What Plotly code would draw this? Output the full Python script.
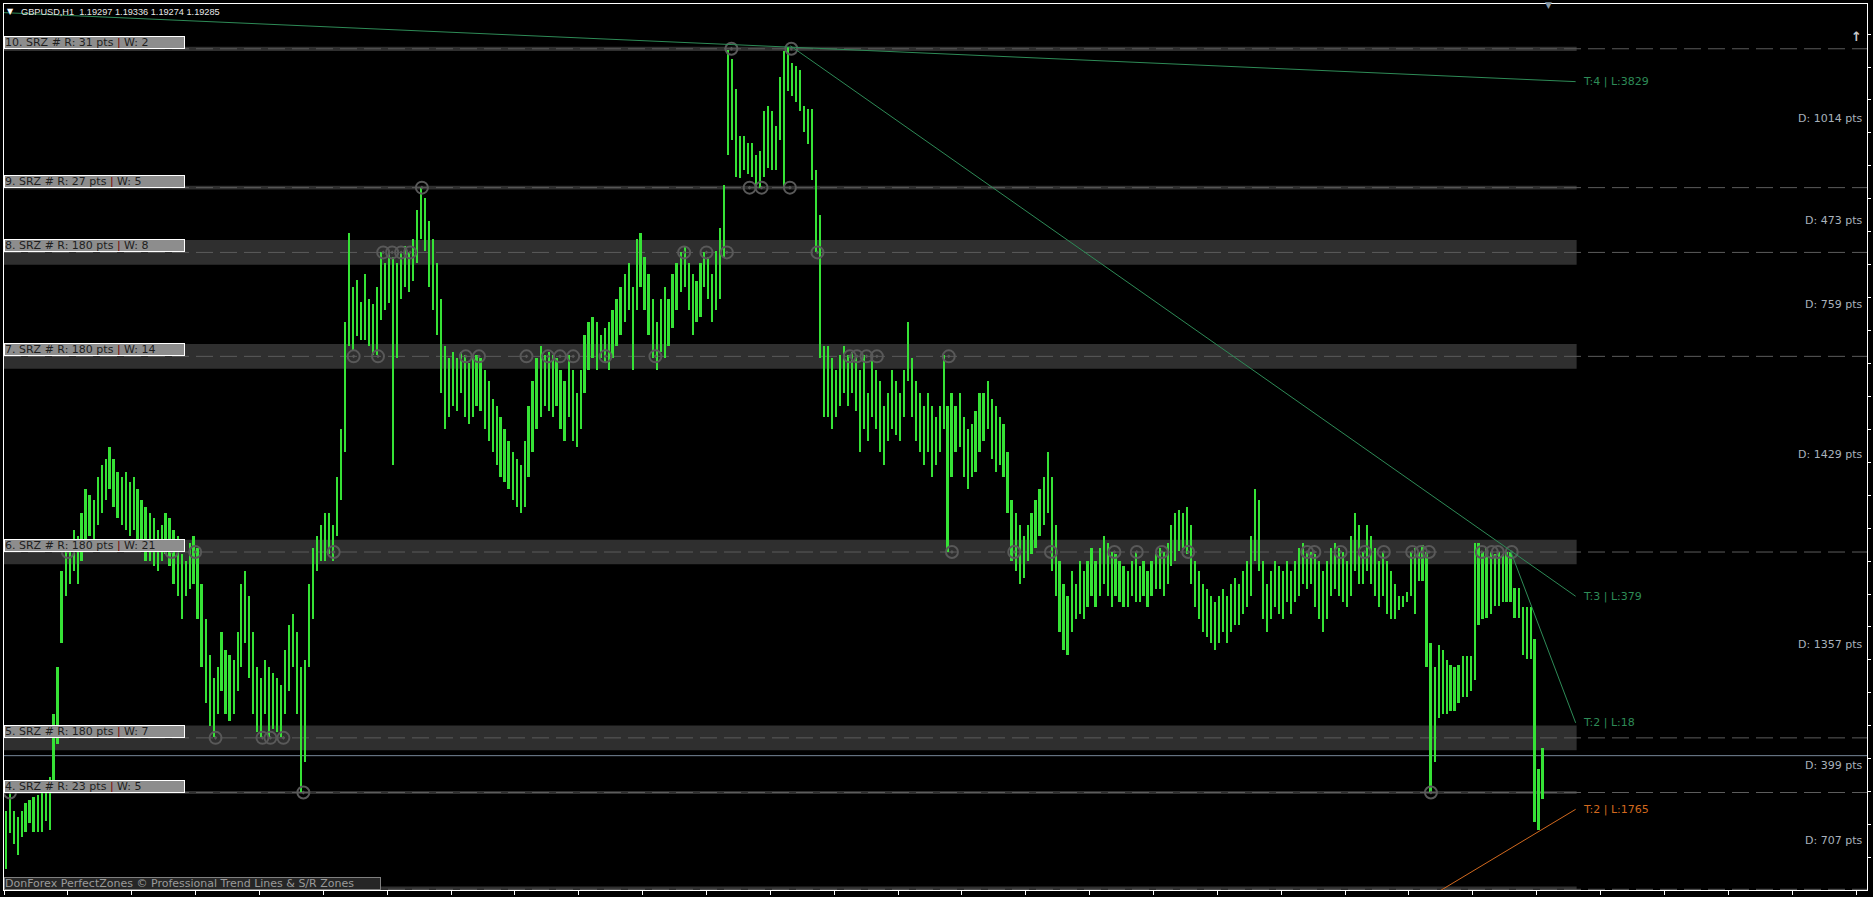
import plotly.graph_objects as go

# ---------------- data ----------------
symbol = "GBPUSD,H1"
last_ohlc = [1.19297, 1.19336, 1.19274, 1.19285]
bid_price = 1.19285

bar_high = [
1.1888,1.1902,1.1888,1.1884,1.1888,1.1894,1.1896,1.1898,1.1900,1.1901,1.1903,1.1913,1.1959,1.1993,1.2063,1.2080,1.2084,1.2093,1.2089,1.2106,
1.2123,1.2119,1.2115,1.2132,1.2141,1.2145,1.2154,1.2145,1.2136,1.2132,1.2136,1.2128,1.2132,1.2123,1.2115,1.2110,1.2106,1.2102,1.2093,1.2097,
1.2106,1.2102,1.2093,1.2089,1.2076,1.2071,1.2084,1.2089,1.2080,1.2054,1.2028,1.2002,1.1985,1.1993,1.2019,1.2006,1.2002,1.1998,1.2019,1.2054,
1.2063,1.2045,1.2019,1.1993,1.1985,1.1998,1.1993,1.1989,1.1985,1.1980,1.2006,1.2024,1.2032,1.2019,1.1993,1.1998,1.2054,1.2080,1.2089,1.2097,
1.2106,1.2106,1.2097,1.2132,1.2167,1.2245,1.2310,1.2271,1.2276,1.2260,1.2280,1.2262,1.2258,1.2271,1.2296,1.2288,1.2296,1.2293,1.2288,1.2296,
1.2301,1.2296,1.2306,1.2327,1.2343,1.2336,1.2319,1.2306,1.2288,1.2262,1.2228,1.2219,1.2223,1.2219,1.2223,1.2221,1.2215,1.2219,1.2221,1.2219,
1.2210,1.2202,1.2189,1.2184,1.2176,1.2167,1.2158,1.2150,1.2145,1.2141,1.2158,1.2184,1.2202,1.2219,1.2228,1.2221,1.2223,1.2221,1.2219,1.2210,
1.2202,1.2221,1.2210,1.2193,1.2210,1.2236,1.2245,1.2249,1.2245,1.2236,1.2241,1.2245,1.2254,1.2262,1.2271,1.2280,1.2288,1.2271,1.2306,1.2310,
1.2293,1.2280,1.2262,1.2245,1.2262,1.2271,1.2262,1.2280,1.2288,1.2296,1.2301,1.2288,1.2280,1.2275,1.2288,1.2296,1.2293,1.2280,1.2297,1.2314,
1.2345,1.2444,1.2437,1.2415,1.2381,1.2381,1.2376,1.2376,1.2367,1.2370,1.2399,1.2403,1.2399,1.2388,1.2424,1.2443,1.2446,1.2434,1.2432,1.2429,
1.2403,1.2401,1.2401,1.2356,1.2323,1.2228,1.2228,1.2219,1.2210,1.2221,1.2228,1.2221,1.2223,1.2221,1.2210,1.2221,1.2193,1.2221,1.2210,1.2202,
1.2184,1.2193,1.2210,1.2202,1.2193,1.2210,1.2245,1.2219,1.2202,1.2193,1.2184,1.2193,1.2184,1.2176,1.2184,1.2221,1.2184,1.2193,1.2184,1.2193,
1.2176,1.2167,1.2171,1.2180,1.2193,1.2193,1.2202,1.2189,1.2184,1.2176,1.2171,1.2150,1.2115,1.2106,1.2097,1.2089,1.2097,1.2106,1.2115,1.2123,
1.2132,1.2150,1.2132,1.2097,1.2071,1.2054,1.2045,1.2063,1.2054,1.2071,1.2063,1.2071,1.2080,1.2071,1.2080,1.2089,1.2084,1.2077,1.2076,1.2071,
1.2067,1.2063,1.2071,1.2077,1.2067,1.2071,1.2063,1.2071,1.2076,1.2080,1.2077,1.2084,1.2097,1.2106,1.2108,1.2106,1.2110,1.2097,1.2071,1.2063,
1.2054,1.2050,1.2045,1.2041,1.2045,1.2050,1.2045,1.2054,1.2058,1.2054,1.2063,1.2071,1.2089,1.2123,1.2115,1.2071,1.2054,1.2063,1.2071,1.2067,
1.2063,1.2071,1.2063,1.2071,1.2080,1.2084,1.2077,1.2077,1.2076,1.2071,1.2063,1.2071,1.2080,1.2084,1.2080,1.2077,1.2071,1.2089,1.2106,1.2097,
1.2077,1.2097,1.2089,1.2080,1.2071,1.2077,1.2071,1.2063,1.2054,1.2045,1.2045,1.2048,1.2077,1.2080,1.2077,1.2082,1.2077,1.2011,1.1993,1.2009,
1.2006,1.1998,1.1995,1.1993,1.1995,1.2001,1.2001,1.2001,1.2084,1.2084,1.2077,1.2080,1.2077,1.2076,1.2077,1.2076,1.2077,1.2077,1.2051,1.2051,
1.2037,1.2037,1.2037,1.2014,1.1919,1.1934]

bar_low = [
1.1846,1.1872,1.1864,1.1856,1.1869,1.1873,1.1879,1.1873,1.1873,1.1873,1.1881,1.1874,1.1906,1.1937,1.2011,1.2045,1.2054,1.2063,1.2054,1.2071,
1.2084,1.2089,1.2080,1.2097,1.2106,1.2115,1.2123,1.2110,1.2102,1.2097,1.2093,1.2089,1.2093,1.2084,1.2080,1.2071,1.2071,1.2067,1.2063,1.2071,
1.2076,1.2067,1.2054,1.2045,1.2028,1.2045,1.2050,1.2054,1.2028,1.1993,1.1967,1.1950,1.1942,1.1959,1.1976,1.1959,1.1954,1.1959,1.1976,1.1993,
1.2011,1.1985,1.1959,1.1946,1.1942,1.1959,1.1942,1.1948,1.1946,1.1942,1.1959,1.1976,1.1993,1.1959,1.1902,1.1924,1.1993,1.2028,1.2063,1.2071,
1.2071,1.2076,1.2071,1.2089,1.2115,1.2150,1.2228,1.2225,1.2235,1.2232,1.2232,1.2228,1.2221,1.2221,1.2247,1.2254,1.2259,1.2141,1.2219,1.2262,
1.2271,1.2267,1.2275,1.2288,1.2306,1.2297,1.2271,1.2254,1.2236,1.2193,1.2167,1.2176,1.2184,1.2180,1.2193,1.2176,1.2171,1.2176,1.2184,1.2180,
1.2167,1.2158,1.2150,1.2141,1.2132,1.2128,1.2123,1.2115,1.2110,1.2106,1.2110,1.2132,1.2150,1.2167,1.2176,1.2184,1.2180,1.2176,1.2184,1.2167,
1.2158,1.2176,1.2158,1.2154,1.2167,1.2193,1.2210,1.2219,1.2210,1.2219,1.2215,1.2210,1.2219,1.2228,1.2236,1.2245,1.2254,1.2210,1.2254,1.2271,
1.2254,1.2236,1.2219,1.2210,1.2223,1.2219,1.2228,1.2241,1.2254,1.2267,1.2271,1.2254,1.2236,1.2245,1.2249,1.2271,1.2262,1.2245,1.2254,1.2262,
1.2293,1.2367,1.2378,1.2351,1.2350,1.2356,1.2353,1.2351,1.2343,1.2343,1.2351,1.2358,1.2356,1.2356,1.2378,1.2343,1.2414,1.2410,1.2406,1.2399,
1.2384,1.2375,1.2349,1.2296,1.2219,1.2176,1.2176,1.2167,1.2176,1.2184,1.2193,1.2184,1.2193,1.2180,1.2150,1.2167,1.2158,1.2176,1.2167,1.2150,
1.2141,1.2158,1.2167,1.2163,1.2158,1.2176,1.2202,1.2176,1.2158,1.2150,1.2141,1.2150,1.2132,1.2141,1.2150,1.2167,1.2077,1.2132,1.2150,1.2154,
1.2132,1.2123,1.2132,1.2136,1.2150,1.2158,1.2167,1.2145,1.2136,1.2141,1.2132,1.2106,1.2071,1.2063,1.2054,1.2058,1.2071,1.2076,1.2080,1.2089,
1.2097,1.2106,1.2063,1.2045,1.2019,1.2006,1.2002,1.2019,1.2028,1.2032,1.2028,1.2037,1.2045,1.2037,1.2045,1.2054,1.2045,1.2037,1.2045,1.2041,
1.2037,1.2037,1.2045,1.2041,1.2041,1.2045,1.2037,1.2045,1.2050,1.2050,1.2045,1.2054,1.2067,1.2071,1.2078,1.2080,1.2076,1.2054,1.2037,1.2028,
1.2019,1.2015,1.2011,1.2006,1.2011,1.2019,1.2011,1.2019,1.2024,1.2024,1.2032,1.2037,1.2045,1.2071,1.2063,1.2028,1.2019,1.2028,1.2037,1.2032,
1.2028,1.2041,1.2032,1.2041,1.2045,1.2054,1.2050,1.2054,1.2037,1.2028,1.2019,1.2028,1.2045,1.2050,1.2045,1.2041,1.2037,1.2045,1.2063,1.2054,
1.2054,1.2063,1.2054,1.2045,1.2037,1.2045,1.2032,1.2028,1.2028,1.2035,1.2037,1.2041,1.2045,1.2032,1.2056,1.2056,1.1993,1.1902,1.1924,1.1956,
1.1959,1.1959,1.1961,1.1961,1.1967,1.1971,1.1971,1.1976,1.1984,1.2024,1.2028,1.2029,1.2032,1.2038,1.2038,1.2041,1.2041,1.2041,1.2029,1.2029,
1.2002,1.1999,1.1999,1.1880,1.1874,1.1897]

bar_index = list(range(len(bar_high)))

# S/R zones
level_num = [10, 9, 8, 7, 6, 5, 4, 3]
level_price = [1.24447, 1.23433, 1.22960, 1.22201, 1.20772, 1.19415, 1.19016, 1.18309]
level_range_pts = [31, 27, 180, 180, 180, 180, 23, 40]
level_weight = [2, 5, 8, 14, 21, 7, 5, 0]
level_dist_pts = [1014, 473, 759, 1429, 1357, 399, 707]

# touch points (bar index, level index)
touch_bar = [181.75, 196.75,
             104.2, 186.3, 189.3, 196.4,
             94.5, 96.75, 99.0, 101.25, 169.9, 175.5, 180.6, 203.3,
             87.1, 93.2, 115.2, 118.5, 130.4, 135.8, 138.8, 142.1, 150.2, 162.7, 211.4, 213.2, 215.6, 218.2, 236.2,
             15.5, 41.5, 47.4, 82.1, 237.0, 252.6, 261.8, 277.7, 283.3, 289.6, 296.2, 326.0, 327.8, 334.4, 340.4,
             345.2, 352.3, 354.5, 356.5, 369.75, 372.25, 373.75, 377.25,
             52.5, 64.25, 66.25, 69.5,
             1.0, 74.5, 357.0]
touch_level = [0, 0,
               1, 1, 1, 1,
               2, 2, 2, 2, 2, 2, 2, 2,
               3, 3, 3, 3, 3, 3, 3, 3, 3, 3, 3, 3, 3, 3, 3,
               4, 4, 4, 4, 4, 4, 4, 4, 4, 4, 4, 4, 4, 4, 4,
               4, 4, 4, 4, 4, 4, 4, 4,
               5, 5, 5, 5,
               6, 6, 6]

# trend lines
trend_label = ["T:4 | L:3829", "T:3 | L:379", "T:2 | L:18", "T:2 | L:1765"]
trend_x0 = [-0.5, 196.5, 377.0, 350.0]
trend_p0 = [1.24711, 1.24469, 1.20776, 1.18136]
trend_x1 = [393.25, 393.25, 393.25, 393.25]
trend_p1 = [1.24207, 1.20449, 1.19525, 1.18893]
trend_color = ["#2e8b57", "#2e8b57", "#2e8b57", "#d2691e"]

credit = "DonForex PerfectZones © Professional Trend Lines & S/R Zones"

# ---------------- figure ----------------
X_RANGE = [-0.5, 466.25]
Y_RANGE = [1.18304, 1.24774]
ZONE_END = 393.5
FONT = "DejaVu Sans"

fig = go.Figure()

fig.add_trace(go.Bar(
    x=bar_index,
    y=[h - l for h, l in zip(bar_high, bar_low)],
    base=bar_low,
    width=0.5,
    marker=dict(color="#36e236", line=dict(width=0)),
    hoverinfo="skip",
))

fig.add_trace(go.Scatter(
    x=touch_bar,
    y=[level_price[i] for i in touch_level],
    mode="markers",
    marker=dict(symbol="circle-open-dot", size=12, color="#595959", line=dict(width=2, color="#595959")),
    hoverinfo="skip",
))

shapes = []
annotations = []
for i, p in enumerate(level_price):
    half = level_range_pts[i] / 2 * 1e-5
    shapes.append(dict(type="rect", xref="x", yref="y", x0=X_RANGE[0], x1=ZONE_END,
                       y0=p - half, y1=p + half, fillcolor="#2f2f2f", line=dict(width=0), layer="below"))
    shapes.append(dict(type="line", xref="x", yref="y", x0=X_RANGE[0], x1=X_RANGE[1], y0=p, y1=p,
                       line=dict(color="#5c5c5c", width=1, dash="17px,7px"), layer="below"))
    if level_weight[i] > 0:
        annotations.append(dict(
            x=X_RANGE[0], y=p, xref="x", yref="y", xanchor="left", yanchor="bottom",
            text=f"{level_num[i]}. SRZ # R: {level_range_pts[i]} pts <span style='color:#800000'>|</span> W: {level_weight[i]}",
            showarrow=False, align="left", width=179, height=11,
            bgcolor="#8d8d8d", bordercolor="#ffffff", borderwidth=1, borderpad=0,
            font=dict(family=FONT, size=11, color="#1e1e1e")))

for i, d in enumerate(level_dist_pts):
    annotations.append(dict(
        x=465.5, y=(level_price[i] + level_price[i + 1]) / 2, xref="x", yref="y",
        xanchor="right", yanchor="middle", text=f"D: {d} pts", showarrow=False,
        font=dict(family=FONT, size=11, color="#a9b2bc")))

# bid line
shapes.append(dict(type="line", xref="x", yref="y", x0=X_RANGE[0], x1=X_RANGE[1],
                   y0=bid_price, y1=bid_price, line=dict(color="#778899", width=1), layer="below"))

for i in range(len(trend_label)):
    shapes.append(dict(type="line", xref="x", yref="y", x0=trend_x0[i], y0=trend_p0[i],
                       x1=trend_x1[i], y1=trend_p1[i], line=dict(color=trend_color[i], width=1), layer="above"))
    annotations.append(dict(
        x=trend_x1[i] + 1.25, y=trend_p1[i], xref="x", yref="y", xanchor="left", yanchor="middle",
        text=trend_label[i], showarrow=False, font=dict(family=FONT, size=11, color=trend_color[i])))

# header
annotations.append(dict(x=0.0035, y=0.9914, xref="paper", yref="paper", xanchor="center", yanchor="middle",
                        text="▼", showarrow=False, font=dict(family=FONT, size=8, color="#ffffff")))
annotations.append(dict(x=0.0080, y=0.9914, xref="paper", yref="paper", xanchor="left", yanchor="middle",
                        text=symbol + "  " + " ".join(f"{v:.5f}" for v in last_ohlc), showarrow=False,
                        font=dict(family="Liberation Sans", size=9.2, color="#e8e8e8")))
annotations.append(dict(x=0.8291, y=0.9985, xref="paper", yref="paper", xanchor="center", yanchor="middle",
                        text="▼", showarrow=False, font=dict(family=FONT, size=9, color="#8a9aa8")))
annotations.append(dict(x=0.9946, y=0.9635, xref="paper", yref="paper", xanchor="center", yanchor="middle",
                        text="<b>↑</b>", showarrow=False, font=dict(family=FONT, size=13, color="#c8c8c8")))
# credit
annotations.append(dict(x=X_RANGE[0], y=0, xref="x", yref="paper", xanchor="left", yanchor="bottom",
                        text=credit, showarrow=False, align="left", width=375, height=11,
                        bgcolor="#262626", bordercolor="#808080", borderwidth=1, borderpad=0,
                        font=dict(family=FONT, size=11, color="#9a9a9a")))

fig.update_layout(
    width=1873, height=897,
    margin=dict(l=3, r=3, t=3, b=4, pad=0),
    paper_bgcolor="#000000", plot_bgcolor="#000000",
    showlegend=False, bargap=0,
    shapes=shapes, annotations=annotations,
    xaxis=dict(range=X_RANGE, showgrid=False, zeroline=False, showline=True, linecolor="#ffffff",
               linewidth=1, mirror=True, ticks="outside", ticklen=4, tickcolor="#ffffff",
               tickmode="linear", tick0=15.5, dtick=16, showticklabels=False, fixedrange=True),
    yaxis=dict(range=Y_RANGE, side="right", showgrid=False, zeroline=False, showline=True,
               linecolor="#ffffff", linewidth=1, mirror=True, ticks="outside", ticklen=3,
               tickcolor="#ffffff", tickmode="linear", tick0=1.24554, dtick=0.002405,
               showticklabels=False, fixedrange=True),
)

fig.write_html("out.html", config={"displayModeBar": False},
               post_script="document.body.style.margin='0';document.body.style.overflow='hidden';")
